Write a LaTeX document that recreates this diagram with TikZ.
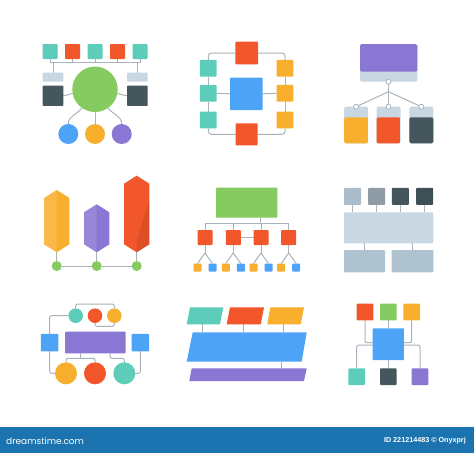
\documentclass[tikz,border=0pt]{standalone}
\usepackage{fontspec}
\setmainfont{Liberation Sans}
\newfontfamily\logofont{Poppins}
\definecolor{cteal}{HTML}{5DCDB9}
\definecolor{cred}{HTML}{F2562B}
\definecolor{cgreen}{HTML}{85CB60}
\definecolor{cblue}{HTML}{4DA3F6}
\definecolor{corange}{HTML}{F9AF2E}
\definecolor{cpurple}{HTML}{8A77D3}
\definecolor{cdark}{HTML}{45565C}
\definecolor{cdark2}{HTML}{3E4F55}
\definecolor{clgray}{HTML}{C9D7E3}
\definecolor{cmgray}{HTML}{AEC2D0}
\definecolor{cslate}{HTML}{A9BDCC}
\definecolor{cgray}{HTML}{8F9CA6}
\definecolor{cline}{HTML}{A9B3BC}
\definecolor{cbar}{HTML}{1B74AF}
\pgfdeclarelayer{bg}
\pgfsetlayers{bg,main}
\tikzset{
  conn/.style={draw=cline, line width=1pt},
  box/.style={rectangle, inner sep=0pt, outer sep=0pt, rounded corners=0.8pt},
  dot/.style={circle, inner sep=0pt, outer sep=0pt},
}
\newcommand\myhex[4]{%
  \fill[#3] (#1,#2) -- (#1+12.7,#2+8) -- (#1+12.7,244.3) -- (#1,252.3)
     -- (#1-12.7,244.3) -- (#1-12.7,#2+8) -- cycle;
  \coordinate (#4) at (#1,252.3);}
\begin{document}
\begin{tikzpicture}[x=1pt,y=-1pt]
\useasboundingbox (0,0) rectangle (474,453);
\begin{pgfonlayer}{bg}
\fill[white] (0,0) rectangle (474,453);
\end{pgfonlayer}

% ---------- icon 1 ----------
\node[box,fill=cteal,minimum size=15pt] (a1) at (50,51.5) {};
\node[box,fill=cred,minimum size=15pt] (a2) at (72.5,51.5) {};
\node[box,fill=cteal,minimum size=15pt] (a3) at (95,51.5) {};
\node[box,fill=cred,minimum size=15pt] (a4) at (117.5,51.5) {};
\node[box,fill=cteal,minimum size=15pt] (a5) at (140,51.5) {};
\coordinate (abus) at (0,62.3);
\node[box,fill=clgray,minimum width=20.6pt,minimum height=9pt] (ag1) at (53,77.2) {};
\node[box,fill=cdark,minimum width=20.6pt,minimum height=20.3pt] (ad1) at (53,95.8) {};
\node[box,fill=clgray,minimum width=20.6pt,minimum height=9pt] (ag2) at (137.3,77.2) {};
\node[box,fill=cdark,minimum width=20.6pt,minimum height=20.3pt] (ad2) at (137.3,95.8) {};
\node[dot,fill=cgreen,minimum size=45.4pt] (ac) at (95,89.3) {};
\node[dot,fill=cblue,minimum size=20pt] (ab1) at (68.3,134) {};
\node[dot,fill=corange,minimum size=20pt] (ab2) at (95,134) {};
\node[dot,fill=cpurple,minimum size=20pt] (ab3) at (121.7,134) {};
\begin{pgfonlayer}{bg}
\draw[conn] (a1.south) -- (a1.south |- abus) -- (a5.south |- abus) -- (a5.south);
\foreach \n in {a2,a3,a4} \draw[conn] (\n.south) -- (\n.south |- abus);
\draw[conn] (ag1.north) -- (ag1.north |- abus);
\draw[conn] (ag2.north) -- (ag2.north |- abus);
\draw[conn] (ad1.east) to[out=0,in=190] (ac.190);
\draw[conn] (ad2.west) to[out=180,in=-10] (ac.-10);
\draw[conn] (ac.235) to[out=235,in=90] (ab1.north);
\draw[conn] (ac.south) -- (ab2.north);
\draw[conn] (ac.305) to[out=305,in=90] (ab3.north);
\end{pgfonlayer}

% ---------- icon 2 ----------
\node[box,fill=cred,minimum size=22.6pt] (b1) at (246.7,53) {};
\node[box,fill=cred,minimum size=22pt] (b2) at (246.7,134.3) {};
\node[box,fill=cteal,minimum size=16.7pt] (bl1) at (208.3,68.3) {};
\node[box,fill=cteal,minimum size=16.7pt] (bl2) at (208.3,93.3) {};
\node[box,fill=cteal,minimum size=16.7pt] (bl3) at (208.3,120) {};
\node[box,fill=corange,minimum size=16.7pt] (br1) at (285,68.3) {};
\node[box,fill=corange,minimum size=16.7pt] (br2) at (285,93.3) {};
\node[box,fill=corange,minimum size=16.7pt] (br3) at (285,120) {};
\node[box,fill=cblue,minimum size=32.5pt] (bc) at (246.3,93.8) {};
\begin{pgfonlayer}{bg}
\draw[conn,rounded corners=3pt] (b1.west) -| (bl1.north);
\draw[conn] (bl1.south) -- (bl2.north);
\draw[conn] (bl2.south) -- (bl3.north);
\draw[conn,rounded corners=3pt] (bl3.south) |- (b2.west);
\draw[conn,rounded corners=3pt] (b2.east) -| (br3.south);
\draw[conn] (br3.north) -- (br2.south);
\draw[conn] (br2.north) -- (br1.south);
\draw[conn,rounded corners=3pt] (br1.north) |- (b1.east);
\draw[conn] (bl2.east) -- (bc.west);
\draw[conn] (bc.east) -- (br2.west);
\end{pgfonlayer}

% ---------- icon 3 ----------
\node[box,fill=clgray,rounded corners=1.5pt,minimum width=57.3pt,minimum height=37.7pt,
  path picture={\fill[cpurple] (path picture bounding box.north west) rectangle ([yshift=10pt]path picture bounding box.south east);}]
  (cs) at (388.65,62.85) {};
\node[dot,draw=cline,fill=white,line width=0.8pt,minimum size=5pt] (ch) at (388.5,81.7) {};
\coordinate (cj) at (388.5,91.7);
\foreach \i/\x/\c in {1/356.2/corange,2/388.5/cred,3/421.3/cdark}{
  \node[box,fill=clgray,rounded corners=1.5pt,minimum width=24pt,minimum height=36.6pt,
    path picture={\fill[\c] ([yshift=-10.6pt]path picture bounding box.north west) rectangle (path picture bounding box.south east);}]
    (cc\i) at (\x,125) {};
  \node[dot,draw=cline,fill=white,line width=0.8pt,minimum size=5pt] (ck\i) at (\x,106.7) {};
}
\begin{pgfonlayer}{bg}
\draw[conn] (ch.south) -- (cj);
\draw[conn] (cj) -- (ck1);
\draw[conn] (cj) -- (ck2);
\draw[conn] (cj) -- (ck3);
\end{pgfonlayer}

% ---------- icon 4 ----------
\myhex{56.7}{190}{corange}{hx1}
\myhex{96.7}{204.3}{cpurple}{hx2}
\myhex{136.7}{175.7}{cred}{hx3}
\fill[white,opacity=0.12] (44,198) -- (56.7,190) -- (56.7,252.3) -- (44,244.3) -- cycle;
\fill[white,opacity=0.12] (84,212.3) -- (96.7,204.3) -- (96.7,252.3) -- (84,244.3) -- cycle;
\fill[black,opacity=0.08] (149.4,200) -- (149.4,244.3) -- (136.7,252.3) -- (136.7,240) -- cycle;
\node[dot,fill=cgreen,minimum size=10pt] (dd1) at (56.7,266) {};
\node[dot,fill=cgreen,minimum size=10pt] (dd2) at (96.7,266) {};
\node[dot,fill=cgreen,minimum size=10pt] (dd3) at (136.7,266) {};
\begin{pgfonlayer}{bg}
\draw[conn] (hx1) -- (dd1.north);
\draw[conn] (hx2) -- (dd2.north);
\draw[conn] (hx3) -- (dd3.north);
\draw[conn] (dd1) -- (dd2);
\draw[conn] (dd2) -- (dd3);
\end{pgfonlayer}

% ---------- icon 5 ----------
\node[box,fill=cgreen,minimum width=61.3pt,minimum height=30pt] (eg) at (246.7,202.7) {};
\coordinate (eb) at (260,223.3);
\foreach \i/\x in {1/205,2/233.3,3/261,4/288.7}{
  \node[box,fill=cred,minimum size=15pt] (er\i) at (\x,237.5) {};
  \node[box,fill=corange,minimum size=8pt] (es\i a) at (\x-7.5,267.5) {};
  \node[box,fill=cblue,minimum size=8pt] (es\i b) at (\x+7.5,267.5) {};
}
\begin{pgfonlayer}{bg}
\draw[conn] (eg.south -| eb) -- (eb);
\draw[conn] (er1.north) -- (er1.north |- eb) -- (er4.north |- eb) -- (er4.north);
\draw[conn] (er2.north) -- (er2.north |- eb);
\draw[conn] (er3.north) -- (er3.north |- eb);
\draw[conn] (er2.east) -- (er3.west);
\foreach \i in {1,2,3,4}{
  \draw[conn] (er\i.south) -- ++(0,8) coordinate (ef\i);
  \draw[conn] (ef\i) -- (es\i a.north);
  \draw[conn] (ef\i) -- (es\i b.north);
}
\end{pgfonlayer}

% ---------- icon 6 ----------
\node[box,fill=cslate,minimum size=17pt] (f1) at (352.5,196.3) {};
\node[box,fill=cgray,minimum size=17pt] (f2) at (376.7,196.3) {};
\node[box,fill=cdark,minimum size=17pt] (f3) at (400.3,196.3) {};
\node[box,fill=cdark2,minimum size=17pt] (f4) at (424.7,196.3) {};
\node[box,fill=clgray,minimum width=89.3pt,minimum height=31pt] (fm) at (388.65,227.8) {};
\node[box,fill=cmgray,minimum width=41pt,minimum height=22.3pt] (fb1) at (364.5,261.15) {};
\node[box,fill=cmgray,minimum width=41.6pt,minimum height=22.3pt] (fb2) at (412.5,261.15) {};
\begin{pgfonlayer}{bg}
\foreach \n in {f1,f2,f3,f4} \draw[conn] (\n.south) -- (\n.south |- fm.north);
\draw[conn] (fb1.north) -- (fb1.north |- fm.south);
\draw[conn] (fb2.north) -- (fb2.north |- fm.south);
\end{pgfonlayer}

% ---------- icon 7 ----------
\node[dot,fill=cteal,minimum size=14.6pt] (g1) at (75.7,315.7) {};
\node[dot,fill=cred,minimum size=14.6pt] (g2) at (95,315.7) {};
\node[dot,fill=corange,minimum size=14.6pt] (g3) at (114.3,315.7) {};
\node[box,fill=cblue,minimum size=17.5pt] (gl) at (49.7,342.5) {};
\node[box,fill=cblue,minimum size=17.5pt] (gr) at (140.3,342.5) {};
\node[box,fill=cpurple,minimum width=60.7pt,minimum height=21.6pt] (gm) at (95.35,342.5) {};
\node[dot,fill=corange,minimum size=22pt] (gb1) at (66,373.3) {};
\node[dot,fill=cred,minimum size=22pt] (gb2) at (95,373.3) {};
\node[dot,fill=cteal,minimum size=22pt] (gb3) at (124.3,373.3) {};
\coordinate (gt) at (0,304);
\coordinate (gu) at (0,326.3);
\coordinate (gv) at (0,358.3);
\coordinate (gx1) at (80.7,0);
\coordinate (gx2) at (110,0);
\begin{pgfonlayer}{bg}
\draw[conn,rounded corners=2pt] (g1.north) -- (g1.north |- gt) -- (g3.north |- gt) -- (g3.north);
\draw[conn,rounded corners=2pt] (g2.south) -- (g2.south |- gu) -- (g3.south |- gu) -- (g3.south);
\draw[conn,rounded corners=2pt] (g1.west) -| (gl.north);
\draw[conn,rounded corners=2pt] (gl.south) |- (gb1.west);
\draw[conn,rounded corners=2pt] (gr.south) |- (gb3.east);
\draw[conn,rounded corners=2pt] (gm.south -| gx1) -- (gx1 |- gv);
\draw[conn,rounded corners=2pt] (gb1.north) -- (gb1.north |- gv) -- (gb2.north |- gv) -- (gb2.north);
\draw[conn,rounded corners=2pt] (gm.south -| gx2) -- (gx2 |- gv) -- (gb3.north |- gv) -- (gb3.north);
\end{pgfonlayer}

% ---------- icon 8 ----------
\fill[cteal] (186.7,324.3) -- (190,307.3) -- (223.3,307.3) -- (220,324.3) -- cycle;
\fill[cred] (226.7,324.3) -- (230,307.3) -- (264,307.3) -- (260.7,324.3) -- cycle;
\fill[corange] (267.3,324.3) -- (270.3,307.3) -- (304,307.3) -- (300.7,324.3) -- cycle;
\fill[cblue] (186.7,361.7) -- (192.7,332.3) -- (306.7,332.3) -- (301.7,361.7) -- cycle;
\fill[cpurple] (189.3,381) -- (191.7,368.3) -- (306.7,368.3) -- (304,381) -- cycle;
\coordinate (h1a) at (202.7,324.3); \coordinate (h1b) at (202.7,332.3);
\coordinate (h2a) at (243.3,324.3); \coordinate (h2b) at (243.3,332.3);
\coordinate (h3a) at (283.3,324.3); \coordinate (h3b) at (283.3,332.3);
\coordinate (h4a) at (281,361.7); \coordinate (h4b) at (281,368.3);
\begin{pgfonlayer}{bg}
\draw[conn] (h1a) -- (h1b);
\draw[conn] (h2a) -- (h2b);
\draw[conn] (h3a) -- (h3b);
\draw[conn] (h4a) -- (h4b);
\end{pgfonlayer}

% ---------- icon 9 ----------
\node[box,fill=cred,minimum size=16.6pt] (k1) at (365,312) {};
\node[box,fill=cgreen,minimum size=16.6pt] (k2) at (388.3,312) {};
\node[box,fill=corange,minimum size=16.6pt] (k3) at (411.7,312) {};
\node[box,fill=cblue,minimum width=31.3pt,minimum height=31.7pt] (kc) at (388.3,344.2) {};
\node[box,fill=cteal,minimum size=16.6pt] (k4) at (356.7,376.7) {};
\node[box,fill=cdark,minimum size=16.6pt] (k5) at (388.3,376.7) {};
\node[box,fill=cpurple,minimum size=16.6pt] (k6) at (420,376.7) {};
\coordinate (ky1) at (0,342.7);
\coordinate (ky2) at (0,345);
\begin{pgfonlayer}{bg}
\draw[conn,rounded corners=2pt] (k1.south) |- (kc.west |- ky1);
\draw[conn] (k2.south) -- (kc.north);
\draw[conn,rounded corners=2pt] (k3.south) |- (kc.east |- ky1);
\draw[conn,rounded corners=2pt] (kc.west |- ky2) -| (k4.north);
\draw[conn] (kc.south) -- (k5.north);
\draw[conn,rounded corners=2pt] (kc.east |- ky2) -| (k6.north);
\end{pgfonlayer}

% ---------- bottom bar ----------
\fill[cbar] (0,426.7) rectangle (474,453);
\node[anchor=west,text=white,inner sep=0pt,font=\logofont\fontsize{9}{11}\selectfont] (logo) at (6,441) {dreamstime.com};
\node[anchor=east,text=white,inner sep=0pt,font=\bfseries\fontsize{7.2}{9}\selectfont] (idt) at (466,441) {ID 221214483 © Onyxprj};
\end{tikzpicture}
\end{document}
